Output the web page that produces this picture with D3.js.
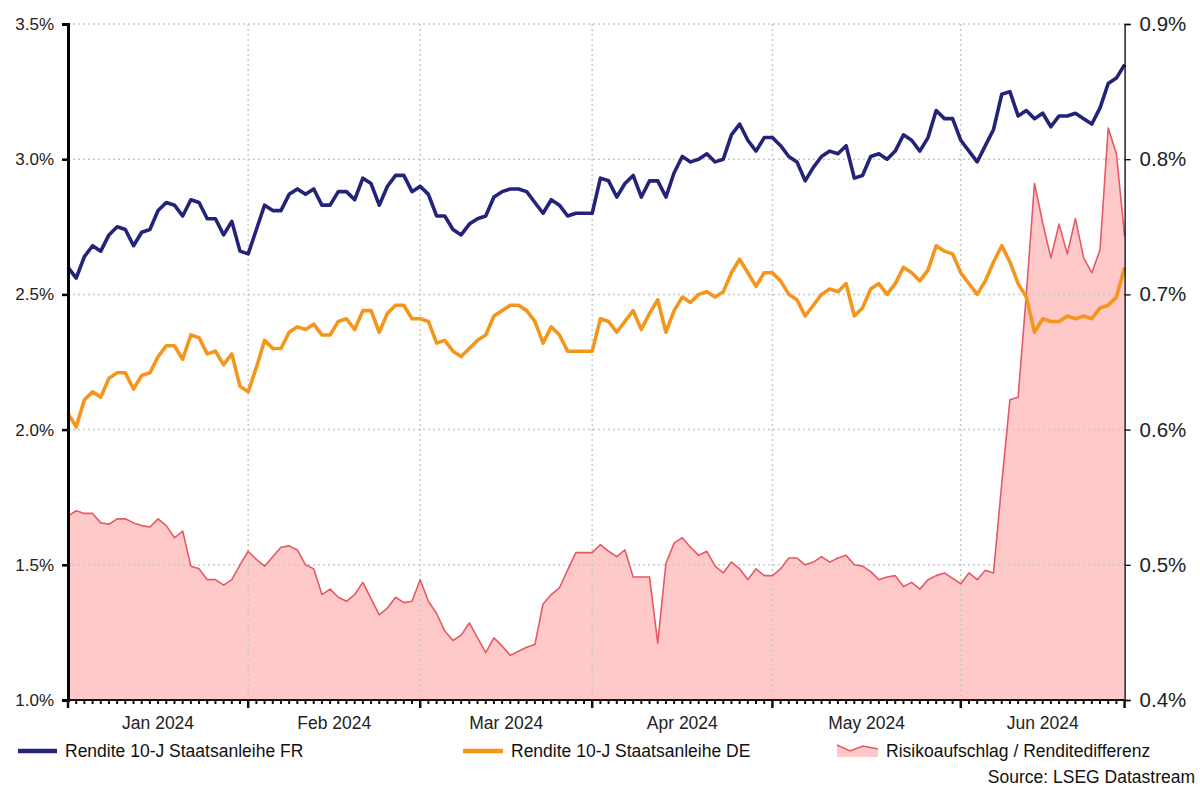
<!DOCTYPE html>
<html>
<head>
<meta charset="utf-8">
<script src="https://cdn.jsdelivr.net/npm/d3@7"></script>
<style>
  body { margin: 0; background: #fff; }
  svg { display: block; font-family: "Liberation Sans", Arial, sans-serif; }
</style>
</head>
<body>
<svg id="chart" width="1200" height="793"></svg>
<script>
// Rendite 10-J Staatsanleihe FR (in %), business days 2 Jan - 1 Jul 2024
var fr = [2.60, 2.56, 2.64, 2.68, 2.66, 2.72, 2.75, 2.74, 2.68, 2.73,
          2.74, 2.81, 2.84, 2.83, 2.79, 2.85, 2.84, 2.78, 2.78, 2.72,
          2.77, 2.66, 2.65, 2.74, 2.83, 2.81, 2.81, 2.87, 2.89, 2.87,
          2.89, 2.83, 2.83, 2.88, 2.88, 2.85, 2.93, 2.91, 2.83, 2.90,
          2.94, 2.94, 2.88, 2.90, 2.87, 2.79, 2.79, 2.74, 2.72, 2.76,
          2.78, 2.79, 2.86, 2.88, 2.89, 2.89, 2.88, 2.84, 2.80, 2.85,
          2.83, 2.79, 2.80, 2.80, 2.80, 2.93, 2.92, 2.86, 2.91, 2.94,
          2.86, 2.92, 2.92, 2.86, 2.95, 3.01, 2.99, 3.00, 3.02, 2.99,
          3.00, 3.09, 3.13, 3.07, 3.03, 3.08, 3.08, 3.05, 3.01, 2.99,
          2.92, 2.97, 3.01, 3.03, 3.02, 3.05, 2.93, 2.94, 3.01, 3.02,
          3.00, 3.03, 3.09, 3.07, 3.03, 3.08, 3.18, 3.15, 3.15, 3.07,
          3.03, 2.99, 3.05, 3.11, 3.24, 3.25, 3.16, 3.18, 3.15, 3.17,
          3.12, 3.16, 3.16, 3.17, 3.15, 3.13, 3.19, 3.28, 3.30, 3.35];

// Rendite 10-J Staatsanleihe DE (in %)
var de = [2.06, 2.01, 2.11, 2.14, 2.12, 2.19, 2.21, 2.21, 2.15, 2.20,
          2.21, 2.27, 2.31, 2.31, 2.26, 2.35, 2.34, 2.28, 2.29, 2.24,
          2.28, 2.16, 2.14, 2.23, 2.33, 2.30, 2.30, 2.36, 2.38, 2.37,
          2.39, 2.35, 2.35, 2.40, 2.41, 2.37, 2.44, 2.44, 2.36, 2.43,
          2.46, 2.46, 2.41, 2.41, 2.40, 2.32, 2.33, 2.29, 2.27, 2.30,
          2.33, 2.35, 2.42, 2.44, 2.46, 2.46, 2.44, 2.40, 2.32, 2.38,
          2.35, 2.29, 2.29, 2.29, 2.29, 2.41, 2.40, 2.36, 2.40, 2.44,
          2.37, 2.43, 2.48, 2.36, 2.44, 2.49, 2.47, 2.50, 2.51, 2.49,
          2.51, 2.58, 2.63, 2.58, 2.53, 2.58, 2.58, 2.55, 2.50, 2.48,
          2.42, 2.46, 2.50, 2.52, 2.51, 2.54, 2.42, 2.45, 2.52, 2.54,
          2.50, 2.54, 2.60, 2.58, 2.55, 2.59, 2.68, 2.66, 2.65, 2.58,
          2.54, 2.50, 2.55, 2.62, 2.68, 2.62, 2.54, 2.49, 2.36, 2.41,
          2.40, 2.40, 2.42, 2.41, 2.42, 2.41, 2.45, 2.46, 2.49, 2.60];

// Risikoaufschlag / Renditedifferenz (in %-Punkten, rechte Achse)
var spread = [0.536, 0.540, 0.538, 0.538, 0.531, 0.530, 0.534, 0.534, 0.531, 0.529,
              0.528, 0.534, 0.529, 0.520, 0.525, 0.499, 0.497, 0.489, 0.489, 0.485,
              0.489, 0.500, 0.510, 0.504, 0.499, 0.506, 0.513, 0.514, 0.511, 0.500,
              0.497, 0.478, 0.482, 0.476, 0.473, 0.478, 0.487, 0.475, 0.463, 0.468,
              0.476, 0.472, 0.473, 0.489, 0.473, 0.464, 0.451, 0.444, 0.448, 0.457,
              0.446, 0.435, 0.446, 0.440, 0.433, 0.436, 0.439, 0.441, 0.471, 0.478,
              0.483, 0.496, 0.509, 0.509, 0.509, 0.515, 0.510, 0.506, 0.511, 0.491,
              0.491, 0.491, 0.442, 0.501, 0.516, 0.520, 0.513, 0.507, 0.510, 0.499,
              0.494, 0.502, 0.497, 0.489, 0.497, 0.492, 0.492, 0.497, 0.505, 0.505,
              0.500, 0.502, 0.506, 0.502, 0.505, 0.507, 0.500, 0.499, 0.495, 0.489,
              0.491, 0.492, 0.484, 0.487, 0.482, 0.489, 0.492, 0.494, 0.490, 0.486,
              0.494, 0.489, 0.496, 0.494, 0.560, 0.622, 0.624, 0.700, 0.782, 0.753,
              0.727, 0.752, 0.730, 0.756, 0.727, 0.716, 0.733, 0.823, 0.804, 0.743];

var leftTicks = [1.0, 1.5, 2.0, 2.5, 3.0, 3.5];
var rightTicks = [0.4, 0.5, 0.6, 0.7, 0.8, 0.9];
var seriesNames = ["Rendite 10-J Staatsanleihe FR", "Rendite 10-J Staatsanleihe DE", "Risikoaufschlag / Renditedifferenz"];

// business days (Mon-Fri) from 2 Jan 2024 to 1 Jul 2024
var dates = d3.utcDay.range(new Date(Date.UTC(2024, 0, 2)), new Date(Date.UTC(2024, 6, 2)))
	.filter(function(d) { return d.getUTCDay() != 0 && d.getUTCDay() != 6; });

var C_FR = "#232378", C_DE = "#f5961c", C_SP = "#e55a63", C_FILL = "#ffc9ca";

var svg = d3.select("#chart");
var pLeft = 68, pRight = 1124.6, pTop = 24, pBottom = 700;

var x = d3.scaleLinear().domain([0, dates.length - 1]).range([pLeft, pRight]);
var yL = d3.scaleLinear().domain([1.0, 3.5]).range([pBottom, pTop]);
var yR = d3.scaleLinear().domain([0.4, 0.9]).range([pBottom, pTop]);

// first index of every month (the lone July point gets no label/grid)
var monthStarts = [];
dates.forEach(function(d, i) {
	if (i == 0 || d.getUTCMonth() != dates[i - 1].getUTCMonth()) monthStarts.push(i);
});
var labelMonths = monthStarts.filter(function(d) { return d < dates.length - 1; });
var fmtMonth = d3.utcFormat("%b %Y");

// spread area (drawn first, grid sits on top)
svg.append("path")
	.datum(spread)
	.attr("fill", C_FILL)
	.attr("d", d3.area()
		.x(function(d, i) { return x(i); })
		.y0(yR(0.4))
		.y1(function(d) { return yR(d); }));

// grid
svg.append("g").selectAll("line")
	.data(leftTicks.slice(1))
	.join("line")
	.attr("x1", pLeft).attr("x2", pRight)
	.attr("y1", function(d) { return yL(d); })
	.attr("y2", function(d) { return yL(d); })
	.attr("stroke", "#c9c9c9")
	.attr("stroke-width", 1.5)
	.attr("stroke-dasharray", "2,3");

svg.append("g").selectAll("line")
	.data(labelMonths.slice(1))
	.join("line")
	.attr("x1", function(d) { return x(d); })
	.attr("x2", function(d) { return x(d); })
	.attr("y1", pTop).attr("y2", pBottom)
	.attr("stroke", "#c9c9c9")
	.attr("stroke-width", 1.5)
	.attr("stroke-dasharray", "2,3");

// spread line
svg.append("path")
	.datum(spread)
	.attr("fill", "none")
	.attr("stroke", C_SP)
	.attr("stroke-width", 1.6)
	.attr("stroke-linejoin", "round")
	.attr("d", d3.line()
		.x(function(d, i) { return x(i); })
		.y(function(d) { return yR(d); }));

// yields
var lineL = d3.line()
	.x(function(d, i) { return x(i); })
	.y(function(d) { return yL(d); });

svg.append("path")
	.datum(de)
	.attr("fill", "none")
	.attr("stroke", C_DE)
	.attr("stroke-width", 3.6)
	.attr("stroke-linejoin", "round")
	.attr("d", lineL);

svg.append("path")
	.datum(fr)
	.attr("fill", "none")
	.attr("stroke", C_FR)
	.attr("stroke-width", 3.6)
	.attr("stroke-linejoin", "round")
	.attr("d", lineL);

// left axis
var gL = svg.append("g")
	.attr("transform", "translate(" + pLeft + ",0)")
	.call(d3.axisLeft(yL).tickValues(leftTicks).tickSize(6).tickPadding(8)
		.tickFormat(function(d) { return d.toFixed(1) + "%"; }));
gL.select(".domain").attr("stroke", "#000").attr("stroke-width", 3);
gL.selectAll(".tick line").attr("stroke", "#000").attr("stroke-width", 2.5);
gL.selectAll("text").attr("font-size", 17).attr("fill", "#222")
	.attr("font-family", "Liberation Sans, Arial, sans-serif");

// right axis
var gR = svg.append("g")
	.attr("transform", "translate(" + pRight + ",0)")
	.call(d3.axisRight(yR).tickValues(rightTicks).tickSize(6).tickPadding(9)
		.tickFormat(function(d) { return d.toFixed(1) + "%"; }));
gR.select(".domain").attr("stroke", "#000").attr("stroke-width", 1.3);
gR.selectAll(".tick line").attr("stroke", "#000").attr("stroke-width", 1.3);
gR.selectAll("text").attr("font-size", 20.5).attr("fill", "#222")
	.attr("font-family", "Liberation Sans, Arial, sans-serif");

// bottom axis: a tick for every business day, longer at month starts
var gB = svg.append("g");
gB.append("line")
	.attr("x1", pLeft).attr("x2", pRight)
	.attr("y1", pBottom).attr("y2", pBottom)
	.attr("stroke", "#111").attr("stroke-width", 2);
gB.selectAll("line.minor")
	.data(d3.range(dates.length))
	.join("line")
	.attr("class", "minor")
	.attr("x1", function(d) { return x(d); })
	.attr("x2", function(d) { return x(d); })
	.attr("y1", pBottom)
	.attr("y2", function(d) { return monthStarts.indexOf(d) >= 0 ? pBottom + 8 : pBottom + 4; })
	.attr("stroke", "#111")
	.attr("stroke-width", function(d) { return monthStarts.indexOf(d) >= 0 ? 2.5 : 2; });

gB.selectAll("text")
	.data(labelMonths)
	.join("text")
	.attr("x", function(d, i) {
		var end = i + 1 < labelMonths.length ? labelMonths[i + 1] : dates.length - 1;
		return (x(d) + x(end)) / 2;
	})
	.attr("y", 729)
	.attr("text-anchor", "middle")
	.attr("font-size", 17.5)
	.attr("fill", "#222")
	.text(function(d) { return fmtMonth(dates[d]); });

// legend
var legend = svg.append("g").attr("font-size", 17.5).attr("fill", "#111");

legend.append("line")
	.attr("x1", 18).attr("x2", 57).attr("y1", 751).attr("y2", 751)
	.attr("stroke", C_FR).attr("stroke-width", 4.5);
legend.append("text").attr("x", 65).attr("y", 757).text(seriesNames[0]);

legend.append("line")
	.attr("x1", 463).attr("x2", 503).attr("y1", 751).attr("y2", 751)
	.attr("stroke", C_DE).attr("stroke-width", 4.5);
legend.append("text").attr("x", 511).attr("y", 757).text(seriesNames[1]);

var icon = [[837, 745], [850, 751], [863, 746], [878, 749]];
legend.append("path")
	.attr("fill", C_FILL)
	.attr("d", d3.area().x(function(d) { return d[0]; }).y0(757).y1(function(d) { return d[1]; })(icon));
legend.append("path")
	.attr("fill", "none").attr("stroke", C_SP).attr("stroke-width", 1.6)
	.attr("d", d3.line()(icon));
legend.append("text").attr("x", 886).attr("y", 757).text(seriesNames[2]);

svg.append("text")
	.attr("x", 1195).attr("y", 783)
	.attr("text-anchor", "end")
	.attr("font-size", 17.5)
	.attr("fill", "#111")
	.text("Source: LSEG Datastream");
</script>
</body>
</html>
